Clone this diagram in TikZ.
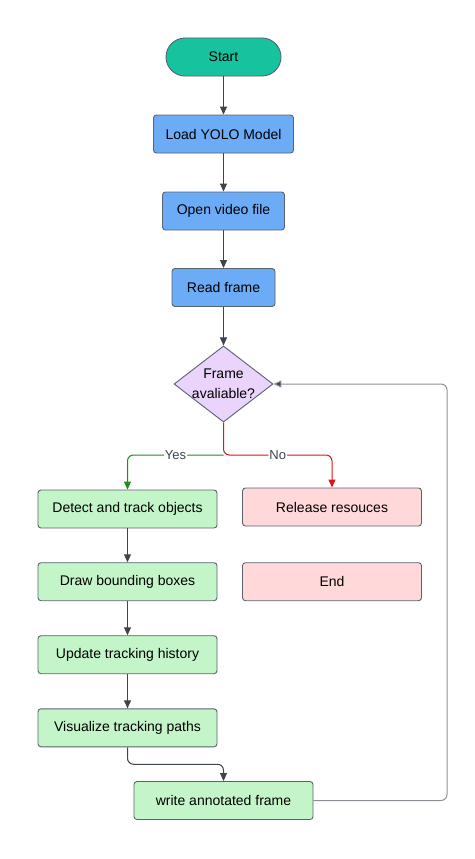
\documentclass[tikz,border=0pt]{standalone}
\usepackage{fontspec}
\setmainfont{Liberation Sans}
\usetikzlibrary{shapes.geometric,arrows.meta}
\definecolor{startfill}{HTML}{17C29E}
\definecolor{bluefill}{HTML}{6CABF5}
\definecolor{greenfill}{HTML}{C4F5C8}
\definecolor{pinkfill}{HTML}{FFD8D9}
\definecolor{purplefill}{HTML}{EAD4FB}
\definecolor{edgeline}{HTML}{5A6270}
\definecolor{arrowline}{HTML}{3E444D}
\definecolor{loopline}{HTML}{8C9096}
\definecolor{yesgreen}{HTML}{1E8C1E}
\definecolor{nored}{HTML}{E01515}
\begin{document}
\begin{tikzpicture}[x=1pt,y=-1pt,font=\fontsize{14}{20}\selectfont,
  box/.style={draw=edgeline,line width=0.9pt,rounded corners=3pt,
    minimum height=38pt,inner sep=0pt},
  arr/.style={draw=arrowline,line width=1pt,
    -{Triangle[length=8pt,width=7pt]},rounded corners=6pt},
  lbl/.style={fill=white,inner sep=1pt,text=arrowline,font=\fontsize{13}{15}\selectfont}]
  \useasboundingbox (0,0) rectangle (474,859);
  % top column
  \node [box,fill=startfill,rounded corners=19pt,minimum width=115pt] (start) at (223.5,57) {Start};
  \node [box,fill=bluefill,minimum width=140pt] (load) at (223.5,134) {Load YOLO Model};
  \node [box,fill=bluefill,minimum width=122pt] (open) at (223.5,211) {Open video file};
  \node [box,fill=bluefill,minimum width=103pt] (read) at (223.5,287.5) {Read frame};
  \node [diamond,draw=edgeline,line width=0.9pt,fill=purplefill,aspect=1.3,
    inner sep=-0.6pt,align=center] (frame) at (223.5,384) {Frame\\avaliable?};
  % left column
  \node [box,fill=greenfill,minimum width=179pt] (detect) at (127.5,509) {Detect and track objects};
  \node [box,fill=greenfill,minimum width=179pt] (boxes) at (127.5,581.7) {Draw bounding boxes};
  \node [box,fill=greenfill,minimum width=179pt] (history) at (127.5,654.7) {Update tracking history};
  \node [box,fill=greenfill,minimum width=179pt] (paths) at (127.5,727.8) {Visualize tracking paths};
  \node [box,fill=greenfill,minimum width=179pt] (write) at (223.5,800.5) {write annotated frame};
  % right column
  \node [box,fill=pinkfill,minimum width=179pt] (release) at (332,507) {Release resouces};
  \node [box,fill=pinkfill,minimum width=179pt] (end) at (332,581.7) {End};
  \coordinate (fork) at (223.5,455);
  \coordinate (loop) at (447,384);

  \draw [arr] (start) -- (load);
  \draw [arr] (load) -- (open);
  \draw [arr] (open) -- (read);
  \draw [arr] (read) -- (frame);
  \draw [arr,draw=yesgreen,-{Triangle[length=8pt,width=7pt,fill=yesgreen]}] (fork) -| (detect.north)
    node [lbl,pos=0.25] {Yes};
  \draw [arr,draw=nored,-{Triangle[length=8pt,width=7pt,fill=nored]}] (frame.south) -- (fork) -| (release.north)
    node [lbl,pos=0.25] {No};
  \draw [arr] (detect) -- (boxes);
  \draw [arr] (boxes) -- (history);
  \draw [arr] (history) -- (paths);
  \draw [arr] (paths.south) -- ++(0,17) -| (write.north);
  \draw [arr,draw=loopline,-{Triangle[length=8pt,width=7pt,fill=arrowline]}] (write.east) -| (loop) -- (frame.east);
\end{tikzpicture}
\end{document}
